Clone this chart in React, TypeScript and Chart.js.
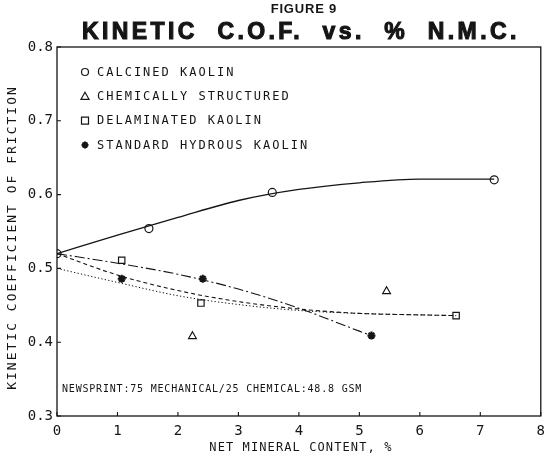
import React, { useEffect, useRef } from "react";
import { Chart, registerables } from "chart.js";

Chart.register(...registerables);

// ---- data ----
const xTickValues = [0, 1, 2, 3, 4, 5, 6, 7, 8];
const yTickValues = [0.3, 0.4, 0.5, 0.6, 0.7, 0.8];

const legendLabels = [
  "CALCINED KAOLIN",
  "CHEMICALLY STRUCTURED",
  "DELAMINATED KAOLIN",
  "STANDARD HYDROUS KAOLIN",
];

const calcinedX = [0, 1.52, 3.56, 7.23];
const calcinedY = [0.52, 0.554, 0.603, 0.62];
const chemX = [2.24, 5.45];
const chemY = [0.408, 0.469];
const delamX = [1.07, 2.38, 6.6];
const delamY = [0.511, 0.453, 0.436];
const hydrousX = [0, 1.07, 2.41, 5.2];
const hydrousY = [0.52, 0.486, 0.486, 0.409];

// fitted curves as drawn in the figure
const calcinedCurveX = [0, 1, 2, 3, 4, 5, 6, 7.23];
const calcinedCurveY = [0.52, 0.545, 0.569, 0.592, 0.607, 0.616, 0.621, 0.621];
const hydrousCurveX = [0, 1, 2, 3, 4, 5, 5.2];
const hydrousCurveY = [0.52, 0.507, 0.492, 0.472, 0.446, 0.415, 0.409];
const dashedCurveX = [0, 1, 2, 3, 4, 5, 6, 6.6];
const dashedCurveY = [0.52, 0.491, 0.47, 0.455, 0.445, 0.439, 0.437, 0.436];
const dottedCurveX = [0, 1, 2, 3, 4, 5, 6, 6.6];
const dottedCurveY = [0.5, 0.481, 0.463, 0.451, 0.443, 0.439, 0.437, 0.436];

const titleText = "KINETIC  C.O.F.  vs.  %  N.M.C.";
const figureText = "FIGURE 9";
const xTitle = "NET MINERAL CONTENT, %";
const yTitle = "KINETIC COEFFICIENT OF FRICTION";
const noteText = "NEWSPRINT:75 MECHANICAL/25 CHEMICAL:48.8 GSM";

const INK = "#151515";
const MONO = '"DejaVu Sans Mono", monospace';

const pts = (xs: number[], ys: number[]) => xs.map((x, i) => ({ x, y: ys[i] }));

function drawMarker(ctx: CanvasRenderingContext2D, kind: string, x: number, y: number) {
  ctx.save();
  ctx.strokeStyle = INK;
  ctx.fillStyle = INK;
  ctx.lineWidth = 1.2;
  ctx.beginPath();
  if (kind === "circle") {
    ctx.arc(x, y, 3.5, 0, Math.PI * 2);
    ctx.stroke();
  } else if (kind === "triangle") {
    ctx.moveTo(x, y - 4);
    ctx.lineTo(x + 4, y + 3);
    ctx.lineTo(x - 4, y + 3);
    ctx.closePath();
    ctx.stroke();
  } else if (kind === "rect") {
    ctx.rect(x - 3.5, y - 3.5, 7, 7);
    ctx.stroke();
  } else {
    ctx.lineWidth = 2;
    for (let k = 0; k < 4; k++) {
      const a = (k * Math.PI) / 4;
      ctx.moveTo(x - 3.5 * Math.cos(a), y - 3.5 * Math.sin(a));
      ctx.lineTo(x + 3.5 * Math.cos(a), y + 3.5 * Math.sin(a));
    }
    ctx.stroke();
  }
  ctx.restore();
}

const decorPlugin = {
  id: "decor",
  afterDraw(chart: any) {
    const { ctx, chartArea: a, scales } = chart;
    ctx.save();
    // frame
    ctx.strokeStyle = INK;
    ctx.lineWidth = 1.3;
    ctx.strokeRect(a.left, a.top, a.right - a.left, a.bottom - a.top);
    // inward tick marks
    ctx.lineWidth = 1.1;
    ctx.beginPath();
    xTickValues.forEach((v) => {
      const px = scales.x.getPixelForValue(v);
      ctx.moveTo(px, a.bottom);
      ctx.lineTo(px, a.bottom - 4);
    });
    yTickValues.forEach((v) => {
      const py = scales.y.getPixelForValue(v);
      ctx.moveTo(a.left, py);
      ctx.lineTo(a.left + 4, py);
    });
    ctx.stroke();

    const cx = (a.left + a.right) / 2;
    ctx.fillStyle = INK;
    ctx.strokeStyle = INK;
    // figure label
    ctx.textAlign = "center";
    ctx.textBaseline = "alphabetic";
    ctx.font = 'bold 13px "Liberation Sans", Arial, sans-serif';
    (ctx as any).letterSpacing = "0.8px";
    ctx.fillText(figureText, cx + 5, 13);
    // main title
    ctx.font = 'bold 23px "Liberation Sans", Arial, sans-serif';
    (ctx as any).letterSpacing = "3.4px";
    ctx.lineWidth = 1.1;
    ctx.fillText(titleText, cx + 2, 39);
    ctx.strokeText(titleText, cx + 2, 39);

    // legend
    const kinds = ["circle", "triangle", "rect", "star"];
    ctx.textAlign = "left";
    ctx.textBaseline = "middle";
    ctx.font = "12px " + MONO;
    (ctx as any).letterSpacing = "2px";
    legendLabels.forEach((lab, i) => {
      const y = a.top + 25 + i * 24.3;
      drawMarker(ctx, kinds[i], a.left + 28, y);
      ctx.fillText(lab, a.left + 40, y + 0.5);
    });

    // note
    ctx.font = "10px " + MONO;
    (ctx as any).letterSpacing = "0.8px";
    ctx.fillText(noteText, a.left + 5, a.bottom - 27);

    // x title
    ctx.textAlign = "center";
    ctx.font = "12px " + MONO;
    (ctx as any).letterSpacing = "1.1px";
    ctx.fillText(xTitle, cx + 2, a.bottom + 32);

    // y title
    ctx.save();
    ctx.translate(13, (a.top + a.bottom) / 2 + 6);
    ctx.rotate(-Math.PI / 2);
    ctx.font = "13px " + MONO;
    (ctx as any).letterSpacing = "2px";
    ctx.fillText(yTitle, 0, 0);
    ctx.restore();

    ctx.restore();
  },
};

export default function App() {
  const ref = useRef<HTMLCanvasElement | null>(null);

  useEffect(() => {
    if (!ref.current) return;
    const lineDs = (xs: number[], ys: number[], dash: number[], width = 1.2) => ({
      type: "line" as const,
      data: pts(xs, ys),
      borderColor: INK,
      borderWidth: width,
      borderDash: dash,
      pointRadius: 0,
      fill: false,
      cubicInterpolationMode: "monotone" as const,
      showLine: true,
    });
    const markDs = (label: string, xs: number[], ys: number[], style: string, r: number, bw: number) => ({
      type: "scatter" as const,
      label,
      data: pts(xs, ys),
      pointStyle: style,
      pointRadius: r,
      borderColor: INK,
      backgroundColor: "#ffffff",
      pointBorderWidth: bw,
      borderWidth: bw,
      showLine: false,
    });

    const chart = new Chart(ref.current, {
      type: "scatter",
      data: {
        datasets: [
          lineDs(calcinedCurveX, calcinedCurveY, [], 1.3),
          lineDs(hydrousCurveX, hydrousCurveY, [10, 3, 2, 3], 1.1),
          lineDs(dashedCurveX, dashedCurveY, [4, 3], 1.1),
          lineDs(dottedCurveX, dottedCurveY, [1.3, 2.2], 1.0),
          markDs(legendLabels[0], calcinedX, calcinedY, "circle", 4, 1.2),
          markDs(legendLabels[1], chemX, chemY, "triangle", 4.5, 1.2),
          markDs(legendLabels[2], delamX, delamY, "rect", 4.5, 1.2),
          markDs(legendLabels[3], hydrousX, hydrousY, "star", 4, 2.2),
        ] as any,
      },
      options: {
        animation: false,
        responsive: false,
        maintainAspectRatio: false,
        layout: { padding: { top: 47, right: 7, left: 0, bottom: 0 } },
        plugins: {
          legend: { display: false },
          tooltip: { enabled: false },
          title: { display: false },
        },
        scales: {
          x: {
            type: "linear",
            min: 0,
            max: 8,
            grid: { display: false, drawTicks: false },
            border: { display: false },
            ticks: {
              stepSize: 1,
              padding: 7,
              color: INK,
              font: { family: "DejaVu Sans Mono", size: 14 },
              maxRotation: 0,
            },
            afterFit: (s: any) => {
              s.height = 42;
            },
          },
          y: {
            type: "linear",
            min: 0.3,
            max: 0.8,
            grid: { display: false, drawTicks: false },
            border: { display: false },
            ticks: {
              stepSize: 0.1,
              padding: 4,
              color: INK,
              font: { family: "DejaVu Sans Mono", size: 14 },
              callback: (v: any) => Number(v).toFixed(1),
            },
            afterFit: (s: any) => {
              s.width = 57;
            },
          },
        },
      },
      plugins: [decorPlugin],
    });
    return () => chart.destroy();
  }, []);

  return (
    <div style={{ position: "absolute", left: 0, top: 0, width: 552, height: 458, background: "#fff" }}>
      <canvas ref={ref} width={552} height={458} style={{ width: 552, height: 458, display: "block" }} />
    </div>
  );
}
